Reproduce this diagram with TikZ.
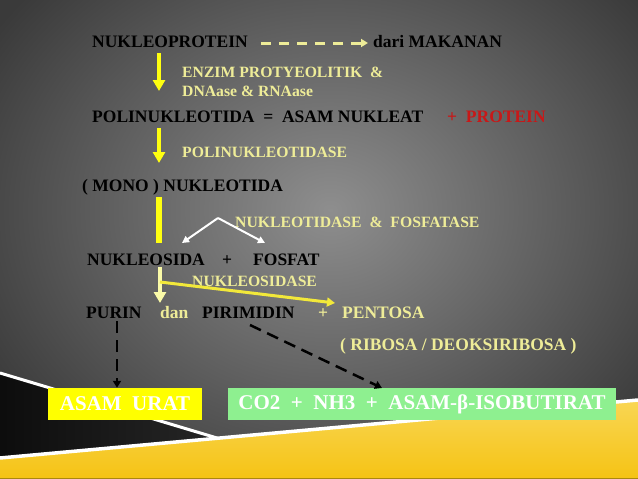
\documentclass[tikz,border=0pt]{standalone}
\usepackage{fontspec}
\setmainfont{Liberation Serif}
\usetikzlibrary{arrows.meta}
\definecolor{bgin}{HTML}{8E8E8E}
\definecolor{bgout}{HTML}{3A3A3A}
\definecolor{paleyel}{HTML}{EEEC98}
\definecolor{arryel}{HTML}{FFFF10}
\definecolor{branchyel}{HTML}{F2E83A}
\definecolor{lightyel}{HTML}{FAFAA8}
\definecolor{protred}{HTML}{C81818}
\definecolor{boxgreen}{HTML}{8EF090}
\definecolor{boxyellow}{HTML}{FFFF00}
\definecolor{goldtop}{HTML}{F9D654}
\definecolor{goldbot}{HTML}{F5C314}
\begin{document}
\begin{tikzpicture}[x=1pt,y=-1pt,
  mtxt/.style={anchor=base west,inner sep=0pt,font=\fontsize{17.5}{20}\selectfont\bfseries,text=black},
  stxt/.style={anchor=base west,inner sep=0pt,font=\fontsize{15.7}{18}\selectfont\bfseries,text=paleyel},
  boxnode/.style={inner sep=0pt,minimum height=32pt,font=\fontsize{21}{23}\selectfont\bfseries,text=white},
  yarrow/.style={draw=arryel,line width=4pt,-{Triangle[width=12pt,length=11pt]}},
  warrow/.style={draw=white,line width=2pt,-{Triangle[width=7pt,length=7pt]}},
  darrow/.style={draw=black,line width=2.5pt,dash pattern=on 12pt off 7pt,-{Triangle[width=8pt,length=7pt]}},
]
\useasboundingbox (0,0) rectangle (638,479);
% background
\begin{scope}
\clip (0,0) rectangle (638,479);
\shade[inner color=bgin,outer color=bgout] (-70,-120) rectangle (730,540);
\end{scope}
% bottom decoration
\shade[left color=black!95,right color=black!85] (0,373) -- (217,438) -- (0,458) -- cycle;
\shade[top color=goldtop,bottom color=goldbot] (0,458) -- (638,400) -- (638,479) -- (0,479) -- cycle;
\draw[white,line width=3pt] (0,373) -- (217,438);
\draw[white,line width=3.5pt] (0,458) -- (638,400);
\draw[color=black!30!goldbot,line width=1pt] (0,478.5) -- (638,478.5);

% texts
\node[mtxt] (np) at (92,47) {NUKLEOPROTEIN};
\node[mtxt] (mak) at (373,47) {dari MAKANAN};
\node[stxt] (enz1) at (182,77) {ENZIM PROTYEOLITIK\ \ \&};
\node[stxt] (enz2) at (182,96) {DNAase \& RNAase};
\node[mtxt] (poli) at (92,122) {POLINUKLEOTIDA\ \ =\ \ ASAM NUKLEAT};
\node[mtxt,text=protred] (prot) at (447,122) {+\ \ PROTEIN};
\node[stxt] (pnase) at (182,157) {POLINUKLEOTIDASE};
\node[mtxt] (mono) at (82,191) {( MONO ) NUKLEOTIDA};
\node[stxt] (ntase) at (235,227) {NUKLEOTIDASE\ \ \&\ \ FOSFATASE};
\node[mtxt] (nsida) at (87,265) {NUKLEOSIDA};
\node[mtxt] (plus1) at (222,265) {+};
\node[mtxt] (fos) at (253,265) {FOSFAT};
\node[stxt] (nsdase) at (192,286) {NUKLEOSIDASE};
\node[mtxt] (purin) at (86,318) {PURIN};
\node[mtxt,text=paleyel] (dan) at (160,318) {dan};
\node[mtxt] (pirim) at (202,318) {PIRIMIDIN};
\node[mtxt,text=paleyel] (plus2) at (318,318) {+};
\node[mtxt,text=paleyel] (pent) at (342,318) {PENTOSA};
\node[mtxt,text=paleyel] (rib) at (340,350) {( RIBOSA / DEOKSIRIBOSA )};

% boxes
\node[boxnode,fill=boxyellow,minimum width=154pt] (urat) at (125,404) {ASAM\ \ URAT};
\node[boxnode,fill=boxgreen,minimum width=388pt] (co2) at (422,404) {CO2\ \ +\ \ NH3\ \ +\ \ ASAM-β-ISOBUTIRAT};

% connector end points
\coordinate (da1) at (261,43);
\coordinate (da2) at (368,43);
\coordinate (a1s) at (159,53);
\coordinate (a1e) at (159,91);
\coordinate (a2s) at (159,128);
\coordinate (a2e) at (159,163);
\coordinate (bs) at (159,197);
\coordinate (be) at (159,243);
\coordinate (wa) at (218,218);
\coordinate (wl) at (182,243);
\coordinate (wr) at (265,243);
\coordinate (ps) at (160,267);
\coordinate (pe) at (160,303);
\coordinate (brs) at (160,282);
\coordinate (bre) at (335,303);
\coordinate (d1s) at (117,321);
\coordinate (d2s) at (250,325);

% connectors
\draw[draw=paleyel,line width=3pt,dash pattern=on 10pt off 8pt,-{Triangle[width=8pt,length=7pt]}] (da1) -- (da2);
\draw[yarrow] (a1s) -- (a1e);
\draw[yarrow] (a2s) -- (a2e);
\draw[draw=arryel,line width=6pt] (bs) -- (be);
\draw[warrow] (wa) -- (wl);
\draw[warrow] (wa) -- (wr);
\draw[draw=lightyel,line width=4pt,-{Triangle[width=12pt,length=11pt]}] (ps) -- (pe);
\draw[draw=branchyel,line width=3pt,-{Triangle[width=9pt,length=8pt]}] (brs) -- (bre);
\draw[darrow] (d1s) -- (d1s |- urat.north);
\draw[darrow] (d2s) -- (382,388);
\end{tikzpicture}
\end{document}
